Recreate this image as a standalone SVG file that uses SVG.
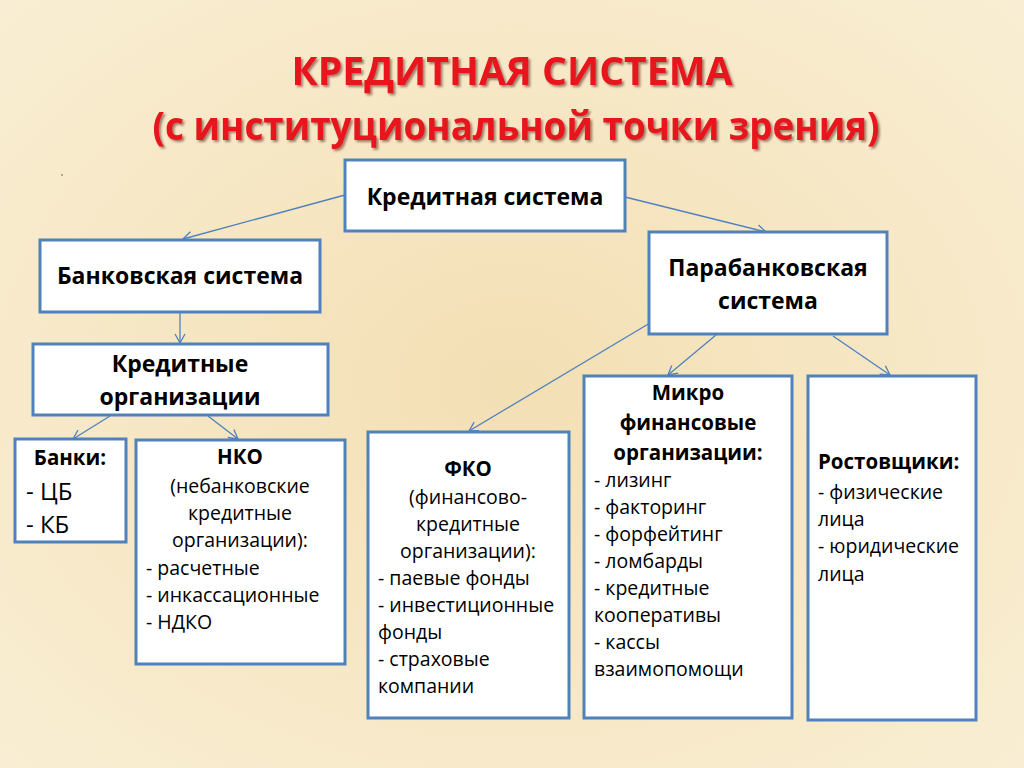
<svg xmlns="http://www.w3.org/2000/svg" width="1024" height="768" viewBox="0 0 1024 768">
<defs>
<radialGradient id="bg" cx="50%" cy="50%" r="70%">
<stop offset="0" stop-color="#f3dfb4"/>
<stop offset="1" stop-color="#f9eed3"/>
</radialGradient>
<marker id="arr" markerWidth="12" markerHeight="12" refX="10" refY="6" orient="auto" markerUnits="userSpaceOnUse">
<path d="M1,1 L10,6 L1,11" fill="none" stroke="#4f81bd" stroke-width="1.3"/>
</marker>
<filter id="sh" x="-5%" y="-20%" width="110%" height="140%">
<feDropShadow dx="2" dy="2" stdDeviation="1.2" flood-color="#5a2a1a" flood-opacity="0.55"/>
</filter>
</defs>
<style>
.box{fill:#ffffff;stroke:#4f81bd;stroke-width:3}
.t{font-family:"Open Sans","Noto Sans","DejaVu Sans",sans-serif;fill:#000}
.b{font-weight:bold}
.c{text-anchor:middle}
.h{font-size:23px}
.s{font-size:20.5px}
.r{font-size:19.5px}
.title{font-family:"Open Sans","Noto Sans",sans-serif;font-weight:bold;fill:#e8141b;font-size:40px;text-anchor:middle}
.con{fill:none;stroke:#4f81bd;stroke-width:1.3;marker-end:url(#arr)}
</style>
<rect width="1024" height="768" fill="url(#bg)"/>
<circle cx="62" cy="175" r="0.8" fill="#555"/>
<g id="title" filter="url(#sh)">
<text class="title" x="512" y="85" textLength="441" lengthAdjust="spacingAndGlyphs">КРЕДИТНАЯ СИСТЕМА</text>
<text class="title" x="516" y="140" textLength="727" lengthAdjust="spacingAndGlyphs">(с институциональной точки зрения)</text>
</g>
<g id="connectors">
<line class="con" x1="345" y1="195" x2="183" y2="239"/>
<line class="con" x1="625" y1="197" x2="766" y2="232"/>
<line class="con" x1="180" y1="312" x2="180" y2="343"/>
<line class="con" x1="110" y1="416" x2="73" y2="439"/>
<line class="con" x1="208" y1="416" x2="238" y2="439"/>
<line class="con" x1="655" y1="320" x2="469" y2="431"/>
<line class="con" x1="716" y1="335" x2="668" y2="375"/>
<line class="con" x1="833" y1="336" x2="890" y2="375"/>
</g>
<g id="n-credit">
<rect class="box" x="345" y="160" width="280" height="71"/>
<text class="t b c h" x="485" y="205">Кредитная система</text>
</g>
<g id="n-bank">
<rect class="box" x="40" y="240" width="280" height="72"/>
<text class="t b c h" x="180" y="284">Банковская система</text>
</g>
<g id="n-para">
<rect class="box" x="649" y="232" width="238" height="102"/>
<text class="t b c h" x="768" y="276">Парабанковская</text>
<text class="t b c h" x="768" y="309">система</text>
</g>
<g id="n-ko">
<rect class="box" x="33" y="344" width="295" height="71"/>
<text class="t b c h" x="180" y="372">Кредитные</text>
<text class="t b c h" x="180" y="405">организации</text>
</g>
<g id="n-banks">
<rect class="box" x="15" y="439" width="111" height="103"/>
<text class="t b c s" x="70" y="465">Банки:</text>
<text class="t" x="26" y="500" font-size="24">- ЦБ</text>
<text class="t" x="26" y="533" font-size="24">- КБ</text>
</g>
<g id="n-nko">
<rect class="box" x="136" y="440" width="209" height="224"/>
<text class="t b c s" x="240" y="464">НКО</text>
<text class="t c r" x="240" y="493">(небанковские</text>
<text class="t c r" x="240" y="520">кредитные</text>
<text class="t c r" x="240" y="547">организации):</text>
<text class="t r" x="146" y="575">- расчетные</text>
<text class="t r" x="146" y="602">- инкассационные</text>
<text class="t r" x="146" y="629">- НДКО</text>
</g>
<g id="n-fko">
<rect class="box" x="368" y="432" width="201" height="286"/>
<text class="t b c s" x="468" y="476">ФКО</text>
<text class="t c r" x="468" y="504">(финансово-</text>
<text class="t c r" x="468" y="531">кредитные</text>
<text class="t c r" x="468" y="558">организации):</text>
<text class="t r" x="378" y="585">- паевые фонды</text>
<text class="t r" x="378" y="612">- инвестиционные</text>
<text class="t r" x="378" y="639">фонды</text>
<text class="t r" x="378" y="666">- страховые</text>
<text class="t r" x="378" y="693">компании</text>
</g>
<g id="n-mfo">
<rect class="box" x="584" y="376" width="208" height="342"/>
<text class="t b c s" x="688" y="400">Микро</text>
<text class="t b c s" x="688" y="430">финансовые</text>
<text class="t b c s" x="688" y="460">организации:</text>
<text class="t r" x="594" y="487">- лизинг</text>
<text class="t r" x="594" y="514">- факторинг</text>
<text class="t r" x="594" y="541">- форфейтинг</text>
<text class="t r" x="594" y="568">- ломбарды</text>
<text class="t r" x="594" y="595">- кредитные</text>
<text class="t r" x="594" y="622">кооперативы</text>
<text class="t r" x="594" y="649">- кассы</text>
<text class="t r" x="594" y="676">взаимопомощи</text>
</g>
<g id="n-rost">
<rect class="box" x="808" y="376" width="168" height="344"/>
<text class="t b s" x="818" y="469">Ростовщики:</text>
<text class="t r" x="818" y="499">- физические</text>
<text class="t r" x="818" y="526">лица</text>
<text class="t r" x="818" y="553">- юридические</text>
<text class="t r" x="818" y="581">лица</text>
</g>
</svg>
